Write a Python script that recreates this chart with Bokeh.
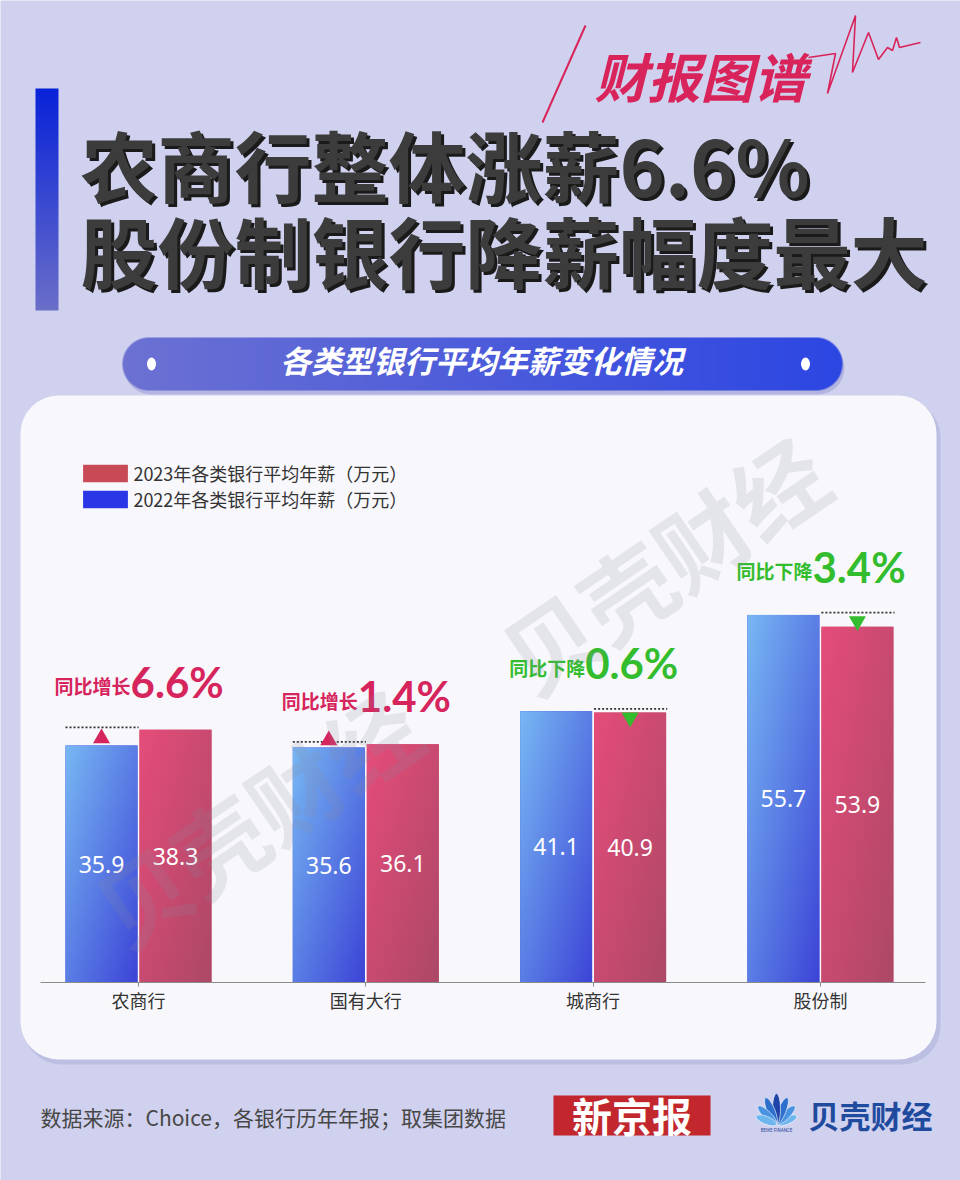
import math
import numpy as np
from bokeh.plotting import figure
from bokeh.models import (Range1d, BoxAnnotation, FixedTicker, Legend, LegendItem)
from bokeh.core.properties import value
from bokeh.embed import file_html
from bokeh.resources import INLINE

# ---------------- data ----------------
categories = ["农商行", "国有大行", "城商行", "股份制"]
salary_2022 = [35.9, 35.6, 41.1, 55.7]
salary_2023 = [38.3, 36.1, 40.9, 53.9]
yoy_words = ["同比增长", "同比增长", "同比下降", "同比下降"]
yoy_pcts = ["6.6%", "1.4%", "0.6%", "3.4%"]
legend_labels = ["2023年各类银行平均年薪（万元）", "2022年各类银行平均年薪（万元）"]
title_lines = ["农商行整体涨薪6.6%", "股份制银行降薪幅度最大"]
brand_tag = "财报图谱"
subtitle = "各类型银行平均年薪变化情况"
source_note = "数据来源：Choice，各银行历年年报；取集团数据"
logo_news = "新京报"
logo_beike = "贝壳财经"
logo_beike_en = "BEIKE FINANCE"

# ---------------- layout / style ----------------
W, H = 960, 1180
BG = "#d0d1ee"
GROUP_PX = 227.3      # pixels between category centres
FIRST_PX = 138.0      # pixel x of first category centre
UNIT_PX = 6.6         # pixels per 万元
BASE_PX = 982.0       # pixel y of zero line
BAR_W = 72 / GROUP_PX
OFF = 37 / GROUP_PX
CJK = "Noto Sans CJK SC"
RED = "#d6245c"
GREEN = "#33bd2e"
PX = dict(x_range_name="px", y_range_name="px")


def mx(px):
    return (px - FIRST_PX) / GROUP_PX


def my(py):
    return (BASE_PX - py) / UNIT_PX


def rgba_image(rgb_fn, alpha, ny, nx):
    img = np.empty((ny, nx), dtype=np.uint32)
    view = img.view(dtype=np.uint8).reshape((ny, nx, 4))
    r, g, b = rgb_fn
    view[:, :, 0] = np.clip(np.round(r), 0, 255).astype(np.uint8)
    view[:, :, 1] = np.clip(np.round(g), 0, 255).astype(np.uint8)
    view[:, :, 2] = np.clip(np.round(b), 0, 255).astype(np.uint8)
    view[:, :, 3] = np.clip(np.round(alpha * 255), 0, 255).astype(np.uint8)
    return img


def diag_gradient(nx, ny, c_tl, c_br):
    u = (np.arange(nx) + 0.5) / nx
    w = 1 - (np.arange(ny) + 0.5) / ny          # row 0 is the bottom
    t = (u[None, :] + w[:, None]) / 2
    rgb = [c_tl[k] + (c_br[k] - c_tl[k]) * t for k in range(3)]
    return rgba_image(rgb, np.ones((ny, nx)), ny, nx)


p = figure(width=W, height=H,
           x_range=Range1d(-FIRST_PX / GROUP_PX, (W - FIRST_PX) / GROUP_PX),
           y_range=Range1d(-(H - BASE_PX) / UNIT_PX, BASE_PX / UNIT_PX),
           output_backend="svg", toolbar_location=None, min_border=0,
           outline_line_color=None, background_fill_color=BG,
           border_fill_color=BG)
p.extra_x_ranges = {"px": Range1d(0, W)}
p.extra_y_ranges = {"px": Range1d(H, 0)}
p.xgrid.visible = False
p.ygrid.visible = False
p.yaxis.visible = False

# ---------------- x axis (fixed at zero) ----------------
xa = p.xaxis[0]
xa.fixed_location = 0
xa.ticker = FixedTicker(ticks=list(range(len(categories))))
xa.major_label_overrides = {i: c for i, c in enumerate(categories)}
xa.bounds = (mx(40), mx(925))
xa.axis_line_color = "#8a8a8a"
xa.major_tick_line_color = "#8a8a8a"
xa.major_tick_out = 4
xa.major_tick_in = 0
xa.minor_tick_line_color = None
xa.major_label_text_font = CJK
xa.major_label_text_font_size = "18px"
xa.major_label_text_color = "#333333"
xa.major_label_standoff = 0

# ---------------- white panel ----------------
p.add_layout(BoxAnnotation(left=23, right=940, top=399, bottom=1064,
                           fill_color="#b8badf", fill_alpha=0.8, line_color=None,
                           border_radius=38, level="underlay", **PX))
p.add_layout(BoxAnnotation(left=20, right=936, top=395, bottom=1059,
                           fill_color="#f8f8fc", fill_alpha=1.0, line_color=None,
                           border_radius=38, level="underlay", **PX))

# ---------------- left accent bar (vertical gradient) ----------------
AL, AR, AT, AB = 35, 58, 88, 310
ny, nx = AB - AT, AR - AL
tt = np.repeat(((np.arange(ny) + 0.5) / ny)[:, None], nx, axis=1)  # 0 bottom -> 1 top
c_top, c_bot = (8, 34, 216), (106, 110, 200)
acc = rgba_image([c_bot[k] + (c_top[k] - c_bot[k]) * tt for k in range(3)],
                 np.ones((ny, nx)), ny, nx)
p.image_rgba(image=[acc], x=[mx(AL)], y=[my(AB)], dw=[nx / GROUP_PX],
             dh=[ny / UNIT_PX], level="glyph")

# ---------------- brand tag ----------------
p.line(x=[585, 542], y=[25, 122], line_color="#d8245a", line_width=2, **PX)
p.text(x=[700], y=[74], text=[brand_tag], text_font=value(CJK),
       text_font_style="bold italic", text_font_size="53px", text_color="#d8245a",
       text_align="center", text_baseline="middle", **PX)
p.line(x=[808, 835, 827, 855, 852, 868, 878, 887, 892, 896, 899, 920],
       y=[57, 53, 93, 15, 72, 32, 59, 47, 50, 37, 47, 42],
       line_color="#d8245a", line_width=1.6, **PX)

# ---------------- title ----------------
for line, cy_t in zip(title_lines, [163, 248.5]):
    p.text(x=[83], y=[cy_t + 3], text=[line], text_font=value(CJK),
           text_font_style="bold", text_font_size="77px", text_color="#1a1a1a",
           text_align="left", text_baseline="middle", **PX)
    p.text(x=[80], y=[cy_t], text=[line], text_font=value(CJK),
           text_font_style="bold", text_font_size="77px", text_color="#3c3c3c",
           text_align="left", text_baseline="middle", **PX)

# ---------------- subtitle pill ----------------
PL, PR, PT, PB = 122, 842, 337, 390
p.add_layout(BoxAnnotation(left=PL + 2, right=PR + 2, top=PT + 4, bottom=PB + 4,
                           fill_color="#9a9dd4", fill_alpha=0.55, line_color=None,
                           border_radius=27, level="underlay", **PX))
pw, ph = PR - PL, PB - PT
rr = ph / 2
ss = 4
xs = (np.arange(pw * ss) + 0.5) / ss
ys = (np.arange(ph * ss) + 0.5) / ss
ddx = np.maximum(np.maximum(rr - xs, xs - (pw - rr)), 0)
ddy = ys - rr
inside = (ddx[None, :] ** 2 + ddy[:, None] ** 2) <= rr * rr
alpha = inside.reshape(ph, ss, pw, ss).mean(axis=(1, 3))
tx = np.repeat(((np.arange(pw) + 0.5) / pw)[None, :], ph, axis=0)
c_l, c_r = (108, 113, 210), (44, 70, 226)
pill = rgba_image([c_l[k] + (c_r[k] - c_l[k]) * tx for k in range(3)], alpha, ph, pw)
p.image_rgba(image=[pill], x=[mx(PL)], y=[my(PB)], dw=[pw / GROUP_PX],
             dh=[ph / UNIT_PX], level="glyph")
cy = (PT + PB) / 2
p.ellipse(x=[151, 805], y=[cy, cy], width=9, height=13, fill_color="white",
          line_color=None, **PX)
p.text(x=[481], y=[359], text=[subtitle], text_font=value(CJK),
       text_font_style="bold italic", text_font_size="31px", text_color="white",
       text_align="center", text_baseline="middle", **PX)

# ---------------- bars ----------------
idx = list(range(len(categories)))
x22 = [i - OFF for i in idx]
x23 = [i + OFF for i in idx]

r23 = p.vbar(x=x23, top=salary_2023, bottom=0, width=BAR_W,
             fill_color="#c94a57", line_color=None)
r22 = p.vbar(x=x22, top=salary_2022, bottom=0, width=BAR_W,
             fill_color="#2b36e6", line_color=None)

BAR_NX = 72
img22 = [diag_gradient(BAR_NX, max(int(round(v * UNIT_PX)), 2), (120, 184, 243), (60, 68, 214))
         for v in salary_2022]
img23 = [diag_gradient(BAR_NX, max(int(round(v * UNIT_PX)), 2), (229, 76, 122), (172, 72, 102))
         for v in salary_2023]
p.image_rgba(image=img22, x=[x - BAR_W / 2 for x in x22], y=[0] * len(idx),
             dw=[BAR_W] * len(idx), dh=salary_2022, level="glyph")
p.image_rgba(image=img23, x=[x - BAR_W / 2 for x in x23], y=[0] * len(idx),
             dw=[BAR_W] * len(idx), dh=salary_2023, level="glyph")

# value labels
p.text(x=x22 + x23, y=[v / 2 for v in salary_2022 + salary_2023],
       text=[f"{v:.1f}" for v in salary_2022 + salary_2023],
       text_font=value("Noto Sans"), text_font_size="23px", text_color="white",
       text_align="center", text_baseline="middle")

# ---------------- change markers ----------------
lead = [max(a, b) for a, b in zip(salary_2022, salary_2023)]
low = [min(a, b) for a, b in zip(salary_2022, salary_2023)]
rise = [b > a for a, b in zip(salary_2022, salary_2023)]
cols = [RED if u else GREEN for u in rise]
x_low = [x22[i] if rise[i] else x23[i] for i in idx]

p.segment(x0=[x - BAR_W / 2 for x in x_low], x1=[x + BAR_W / 2 + 0.005 for x in x_low],
          y0=[m + 0.35 for m in lead], y1=[m + 0.35 for m in lead],
          line_color="#333333", line_width=1.8, line_dash="2 2")
up_i = [i for i in idx if rise[i]]
dn_i = [i for i in idx if not rise[i]]
p.scatter(x=[x_low[i] for i in up_i], y=[low[i] + 1.1 for i in up_i],
          marker="triangle", size=17, fill_color=RED, line_color=None)
p.scatter(x=[x_low[i] for i in dn_i], y=[lead[i] - 0.95 for i in dn_i],
          marker="inverted_triangle", size=17, fill_color=GREEN, line_color=None)

lab_x = [i - 0.035 for i in idx]
p.text(x=lab_x, y=[m + 6.7 for m in lead], text=yoy_words, text_font=value(CJK),
       text_font_style="bold", text_font_size="19px", text_color=cols,
       text_align="right", text_baseline="middle")
p.text(x=lab_x, y=[m + 7.3 for m in lead], text=yoy_pcts, text_font=value("Lato"),
       text_font_style="bold", text_font_size="42px", text_color=cols,
       text_align="left", text_baseline="middle")

# ---------------- legend ----------------
legend = Legend(items=[LegendItem(label=legend_labels[0], renderers=[r23]),
                       LegendItem(label=legend_labels[1], renderers=[r22])],
                location=(77.4, 668), glyph_width=56, glyph_height=22,
                label_height=22, label_standoff=0, spacing=0, padding=0, margin=0,
                border_line_color=None, background_fill_alpha=0,
                label_text_font=CJK, label_text_font_size="18px",
                label_text_color="#333333")
p.add_layout(legend)

# ---------------- watermark ----------------
p.text(x=[255, 662], y=[815, 562], text=[logo_beike, logo_beike], angle=0.6,
       text_font=value(CJK), text_font_style="bold", text_font_size="92px",
       text_color="#8a8aa0", text_alpha=0.18, text_align="center",
       text_baseline="middle", **PX)

# ---------------- footer ----------------
p.text(x=[40], y=[1116.5], text=[source_note], text_font=value(CJK),
       text_font_size="21px", text_color="#474747", text_align="left",
       text_baseline="middle", **PX)
p.quad(left=[553], right=[710], top=[1095], bottom=[1135], fill_color="#c1272d",
       line_color=None, **PX)
p.text(x=[631.5], y=[1114], text=[logo_news], text_font=value(CJK),
       text_font_style="bold", text_font_size="40px", text_color="white",
       text_align="center", text_baseline="middle", **PX)

# shell icon
bx, by = 776, 1124
angs = [22, 45, 68, 90, 112, 135, 158]
pcol = ["#6fb6ee", "#4a93e0", "#2f6fcc", "#1d44a6", "#2f6fcc", "#4a93e0", "#6fb6ee"]
plen = [22, 26, 29, 31, 29, 26, 22]
ex = [bx + 0.5 * L * math.cos(math.radians(a)) for a, L in zip(angs, plen)]
ey = [by - 0.5 * L * math.sin(math.radians(a)) for a, L in zip(angs, plen)]
p.ellipse(x=ex, y=ey, width=plen, height=[8] * len(angs),
          angle=[math.radians(a) for a in angs], fill_color=pcol,
          line_color="white", line_width=0.6, **PX)
p.text(x=[bx], y=[1130], text=[logo_beike_en], text_font=value("Roboto"),
       text_font_size="4.5px", text_color="#2a4aa0", text_align="center",
       text_baseline="middle", **PX)
p.text(x=[808], y=[1114], text=[logo_beike], text_font=value(CJK),
       text_font_style="bold", text_font_size="31px", text_color="#1f4b9f",
       text_align="left", text_baseline="middle", **PX)

open("out.html", "w").write(file_html(p, INLINE))
